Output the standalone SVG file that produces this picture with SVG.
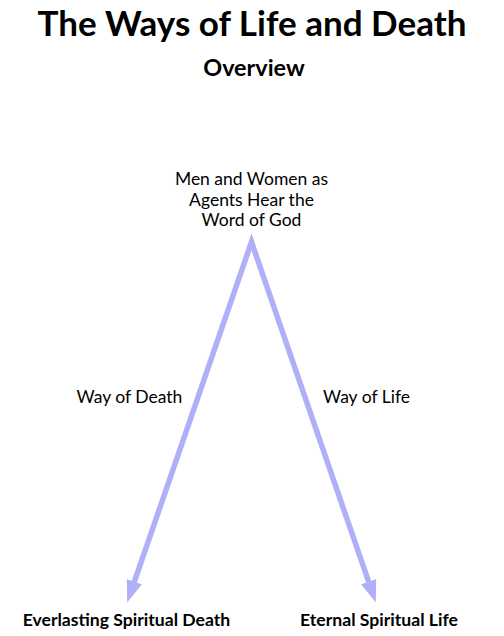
<svg xmlns="http://www.w3.org/2000/svg" width="504" height="636" viewBox="0 0 504 636">
<style>
text{font-family:Lato,"Open Sans","Liberation Sans",sans-serif;fill:#000;text-anchor:middle}
.t{font-size:35px;font-weight:bold}
.s{font-size:23.4px;font-weight:bold}
.n{font-size:17.5px}
.b{font-size:17.6px;font-weight:bold}
.way{fill:none;stroke:#b0b0f8;stroke-width:5.5;stroke-linejoin:miter;stroke-miterlimit:10}
</style>
<defs>
<marker id="ah" markerUnits="userSpaceOnUse" viewBox="0 0 22 16" markerWidth="22" markerHeight="16" refX="0.5" refY="8" orient="auto-start-reverse">
<path d="M0,0 L22,8 L0,16 z" fill="#b0b0f8"/>
</marker>
</defs>
<g id="title">
<text class="t" x="252" y="36">The Ways of Life and Death</text>
<text class="s" x="254" y="76">Overview</text>
</g>
<g id="connectors">
<polyline class="way" points="134.2,582.2 251.5,242 368.8,582.2" marker-start="url(#ah)" marker-end="url(#ah)"/>
<text class="n" x="129.5" y="403">Way of Death</text>
<text class="n" x="366.5" y="403">Way of Life</text>
</g>
<g id="node-agents">
<text class="n" x="251.5" y="185">Men and Women as</text>
<text class="n" x="251.5" y="205.5">Agents Hear the</text>
<text class="n" x="251.5" y="226">Word of God</text>
</g>
<g id="node-death">
<text class="b" x="126.5" y="626">Everlasting Spiritual Death</text>
</g>
<g id="node-life">
<text class="b" x="379" y="626">Eternal Spiritual Life</text>
</g>
</svg>
